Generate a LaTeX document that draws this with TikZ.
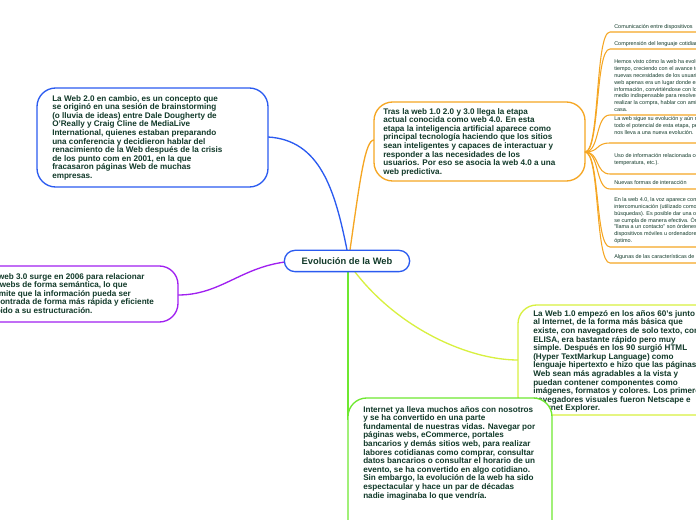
\documentclass[tikz,border=0pt]{standalone}
\usepackage{fontspec}
\setmainfont{Liberation Sans}
\definecolor{txt}{HTML}{123A2A}
\definecolor{cblue}{HTML}{2B5BF0}
\definecolor{cpurp}{HTML}{A020F0}
\definecolor{corange}{HTML}{F5A623}
\definecolor{cyel}{HTML}{D8F040}
\definecolor{cgreen}{HTML}{6EE830}
\begin{document}
\begin{tikzpicture}[x=0.75pt,y=-0.75pt,
  box/.style={anchor=north west,align=left,inner sep=0pt,text=txt,font=\fontsize{6.1}{6.45}\selectfont\bfseries},
  item/.style={anchor=north west,align=left,inner sep=0pt,text=txt,font=\fontsize{4.1}{5.2}\selectfont},
  con/.style={line width=1pt}]
\useasboundingbox (0,0) rectangle (696,520);
\clip (0,0) rectangle (696,520);
% connectors
\draw[con,cblue] (347,250) .. controls (335,190) and (320,140) .. (268,137);
\draw[con,cpurp] (285,262) .. controls (240,268) and (220,295) .. (178,295);
\draw[con,corange] (350,250) .. controls (360,180) and (365,140) .. (374,140);
\draw[con,cyel] (355,272) .. controls (400,330) and (470,360) .. (518,360);
\draw[con,cgreen] (348,272) -- (348,420);
% center
\node[draw=cblue,line width=1pt,rounded corners=8pt,fill=white,minimum width=94pt,minimum height=16pt,text=txt,font=\fontsize{7}{8}\selectfont\bfseries,inner xsep=6pt] (c) at (347,261) {Evolución de la Web};
% boxes
\draw[cblue,line width=1pt,rounded corners=14pt,fill=white] (37,88) rectangle (268,187);
\node[box] (tl) at (52,95) {La Web 2.0 en cambio, es un concepto que\\se originó en una sesión de brainstorming\\(o lluvia de ideas) entre Dale Dougherty de\\O'Really y Craig Cline de MediaLive\\International, quienes estaban preparando\\una conferencia y decidieron hablar del\\renacimiento de la Web después de la crisis\\de los punto com en 2001, en la que\\fracasaron páginas Web de muchas\\empresas.};
\draw[cpurp,line width=1pt,rounded corners=14pt,fill=white] (-30,266) rectangle (178,322);
\node[box] (lf) at (-14,273) {La web 3.0 surge en 2006 para relacionar\\las webs de forma semántica, lo que\\permite que la información pueda ser\\encontrada de forma más rápida y eficiente\\debido a su estructuración.};
\draw[corange,line width=1pt,rounded corners=14pt,fill=white] (374,102) rectangle (585,181);
\node[box] (or) at (383,108) {Tras la web 1.0 2.0 y 3.0 llega la etapa\\actual conocida como web 4.0. En esta\\etapa la inteligencia artificial aparece como\\principal tecnología haciendo que los sitios\\sean inteligentes y capaces de interactuar y\\responder a las necesidades de los\\usuarios. Por eso se asocia la web 4.0 a una\\web predictiva.};
\draw[cyel,line width=1pt,rounded corners=14pt,fill=white] (518,305) rectangle (720,415);
\node[box] (yl) at (533,310) {La Web 1.0 empezó en los años 60's junto\\al Internet, de la forma más básica que\\existe, con navegadores de solo texto, como\\ELISA, era bastante rápido pero muy\\simple. Después en los 90 surgió HTML\\(Hyper TextMarkup Language) como\\lenguaje hipertexto e hizo que las páginas\\Web sean más agradables a la vista y\\puedan contener componentes como\\imágenes, formatos y colores. Los primeros\\navegadores visuales fueron Netscape e\\Internet Explorer.};
\draw[cgreen,line width=1pt,rounded corners=14pt,fill=white] (348,398) rectangle (552,540);
\node[box] (gr) at (363,406) {Internet ya lleva muchos años con nosotros\\y se ha convertido en una parte\\fundamental de nuestras vidas. Navegar por\\páginas webs, eCommerce, portales\\bancarios y demás sitios web, para realizar\\labores cotidianas como comprar, consultar\\datos bancarios o consultar el horario de un\\evento, se ha convertido en algo cotidiano.\\Sin embargo, la evolución de la web ha sido\\espectacular y hace un par de décadas\\nadie imaginaba lo que vendría.};
% orange items
\coordinate (o) at (585,152);
\foreach \ty/\uy/\t in {
 24/32/{Comunicación entre dispositivos},
 41/49/{Comprensión del lenguaje cotidiano},
 59/115/{Hemos visto cómo la web ha evolucionado con el\\tiempo, creciendo con el avance tecnológico y las\\nuevas necesidades de los usuarios. En un inicio la\\web apenas era un lugar donde encontrar\\información, convirtiéndose con los años en un\\medio indispensable para resolver problemas,\\realizar la compra, hablar con amigos o trabajar desde\\casa.},
 116/143/{La web sigue su evolución y aún no se ha explotado\\todo el potencial de esta etapa, pero en breve\\nos lleva a una nueva evolución.},
 153/174/{Uso de información relacionada con el entorno (ubicación,\\temperatura, etc.).},
 180/189/{Nuevas formas de interacción},
 197/247/{En la web 4.0, la voz aparece como nueva forma de\\intercomunicación (utilizado como medio para realizar\\búsquedas). Es posible dar una orden y esperar que\\se cumpla de manera efectiva. Órdenes como\\"llama a un contacto" son órdenes que los\\dispositivos móviles u ordenadores realizan de forma\\óptimo.},
 254/263/{Algunas de las características de la web 4.0}}
{
 \node[item] at (614,\ty) {\t};
 \draw[corange,line width=0.8pt] (o) .. controls (600,152) and (595,\uy) .. (610,\uy) -- (700,\uy);
}
\end{tikzpicture}
\end{document}
